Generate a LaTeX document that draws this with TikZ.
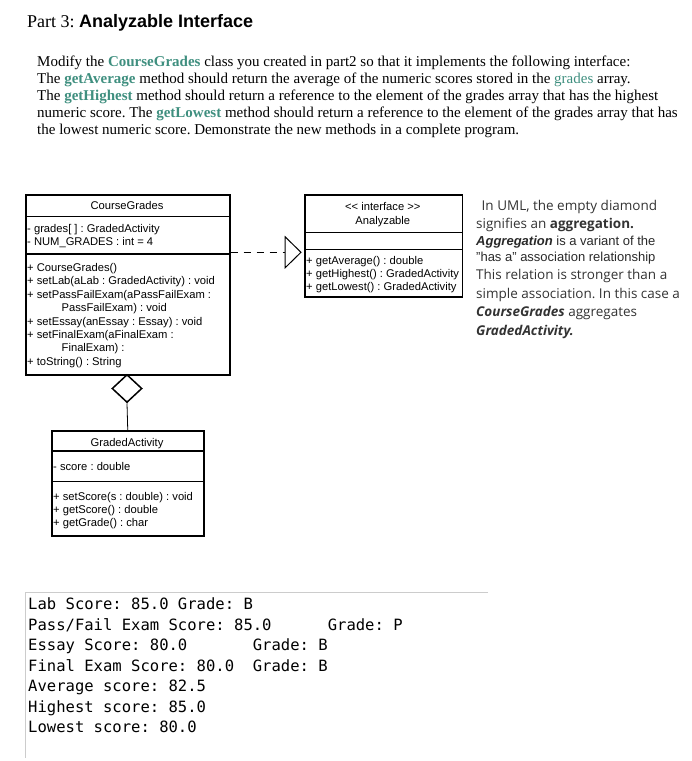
\documentclass[tikz,border=0pt]{standalone}
\usepackage{fontspec}
\setmainfont{Liberation Serif}
\setsansfont{Liberation Sans}
\newfontfamily\osans{Open Sans}
\newfontfamily\monof{DejaVu Sans Mono}
\usetikzlibrary{arrows.meta,shapes.geometric}
\definecolor{tealw}{HTML}{3F8F7F}
\definecolor{ink}{HTML}{333333}
\definecolor{rulec}{HTML}{CCCCCC}
\frenchspacing
\begin{document}
\frenchspacing
\begin{tikzpicture}[x=1pt,y=-1pt,
  umlbox/.style={draw=black, line width=1.5pt, inner sep=0pt, anchor=north west},
  sepline/.style={line width=1.3pt},
  umltxt/.style={font=\sffamily\fontsize{11.2}{13}\selectfont, inner sep=0pt, anchor=base west},
  umlhead/.style={font=\sffamily\fontsize{11.2}{13}\selectfont, inner sep=0pt, anchor=base},
  para/.style={font=\fontsize{15}{17}\selectfont, inner sep=0pt, anchor=base west},
  side/.style={font=\osans\fontsize{13.5}{16}\selectfont, text=ink, inner sep=0pt, anchor=base west},
  sidear/.style={font=\sffamily\fontsize{13}{16}\selectfont, text=ink!80!black, inner sep=0pt, anchor=base west},
  cons/.style={font=\monof\fontsize{15.55}{18}\selectfont, inner sep=0pt, anchor=base west},
  impl/.style={line width=1.5pt, dash pattern=on 7pt off 6pt, -{Triangle[open, length=17pt, width=33pt, line width=1pt]}},
  aggr/.style={draw=black, diamond, line width=1.5pt, minimum width=30pt, minimum height=28pt, inner sep=0pt}
]
\useasboundingbox (0,0) rectangle (692,761);

% title
\node[inner sep=0pt, anchor=base west] (title) at (27,27) {\fontsize{18}{20}\selectfont Part 3: {\sffamily\bfseries Analyzable Interface}};

% paragraph
\node[para] (p1) at (37,66.5) {Modify the {\color{tealw}\bfseries CourseGrades} class you created in part2 so that it implements the following interface:};
\node[para] (p2) at (37,83.5) {The {\color{tealw}\bfseries getAverage} method should return the average of the numeric scores stored in the {\color{tealw}grades} array.};
\node[para] (p3) at (37,100.5) {The {\color{tealw}\bfseries getHighest} method should return a reference to the element of the grades array that has the highest};
\node[para] (p4) at (37,117.5) {numeric score. The {\color{tealw}\bfseries getLowest} method should return a reference to the element of the grades array that has};
\node[para] (p5) at (37,134.5) {the lowest numeric score. Demonstrate the new methods in a complete program.};

% CourseGrades class
\node[umlbox, minimum width=204pt, minimum height=180pt] (cg) at (25,194) {};
\draw[sepline] (25,216.7) -- (229,216.7);
\draw[sepline] (25,254) -- (229,254);
\node[umlhead] (cgh) at (127,209.5) {CourseGrades};
\foreach \s [count=\i] in {{- grades[ ] : GradedActivity},{- NUM\_GRADES : int = 4}}
  \node[umltxt] (cga\i) at (27,{232+13.4*(\i-1)}) {\s};
\foreach \s [count=\i] in {{+ CourseGrades()},{+ setLab(aLab : GradedActivity) : void},{+ setPassFailExam(aPassFailExam :},{\hspace*{34.5pt}PassFailExam) : void},{+ setEssay(anEssay : Essay) : void},{+ setFinalExam(aFinalExam :},{\hspace*{34.5pt}FinalExam) :},{+ toString() : String}}
  \node[umltxt] (cgm\i) at (27,{271.5+13.4*(\i-1)}) {\s};

% Analyzable interface
\node[umlbox, minimum width=157.7pt, minimum height=102pt] (an) at (304,194) {};
\draw[sepline] (304,232.7) -- (461.7,232.7);
\draw[sepline] (304,249.3) -- (461.7,249.3);
\node[umlhead] (anh1) at (382.8,210.5) {<{}< interface >{}>};
\node[umlhead] (anh2) at (382.8,224.5) {Analyzable};
\foreach \s [count=\i] in {{+ getAverage() : double},{+ getHighest() : GradedActivity},{+ getLowest() : GradedActivity}}
  \node[umltxt] (anm\i) at (306,{264+13.4*(\i-1)}) {\s};

% realization connector
\coordinate (ip) at (301.7,252.3);
\draw[impl] (cg.east |- ip) -- (ip);

% GradedActivity class
\node[umlbox, minimum width=152pt, minimum height=105pt] (ga) at (51,430) {};
\draw[sepline] (51,451) -- (203,451);
\draw[sepline] (51,481.7) -- (203,481.7);
\node[umlhead] (gah) at (127,446) {GradedActivity};
\node[umltxt] (gaa1) at (53,470.5) {- score : double};
\foreach \s [count=\i] in {{+ setScore(s : double) : void},{+ getScore() : double},{+ getGrade() : char}}
  \node[umltxt] (gam\i) at (53,{500+13.4*(\i-1)}) {\s};

% aggregation
\node[aggr] (dm) at (127,388.5) {};
\draw[line width=0.8pt] (dm.south) -- (ga.north);

% side note
\node[side] (r1) at (478,210) {\ In UML, the empty diamond};
\node[side] (r2) at (476,228) {signifies an \textbf{aggregation.}};
\node[sidear] (r3) at (476,245) {\textbf{\textit{Aggregation}} is a variant of the};
\node[sidear] (r4) at (476,261) {"has a" association relationship};
\node[side] (r5) at (476,279) {This relation is stronger than a};
\node[side] (r6) at (476,298) {simple association. In this case a};
\node[side] (r7) at (476,316) {\textbf{\textit{CourseGrades}} aggregates};
\node[side] (r8) at (476,335) {\textbf{\textit{GradedActivity.}}};

% console output
\draw[rulec, line width=1pt] (488,592) -- (25,592) -- (25,758);
\foreach \s [count=\i] in {{Lab Score: 85.0 Grade: B},{Pass/Fail Exam Score: 85.0\ \ \ \ \ \ Grade: P},{Essay Score: 80.0\ \ \ \ \ \ \ Grade: B},{Final Exam Score: 80.0\ \ Grade: B},{Average score: 82.5},{Highest score: 85.0},{Lowest score: 80.0}}
  \node[cons] (c\i) at (28,{609.5+20.5*(\i-1)}) {\s};
\end{tikzpicture}
\end{document}
